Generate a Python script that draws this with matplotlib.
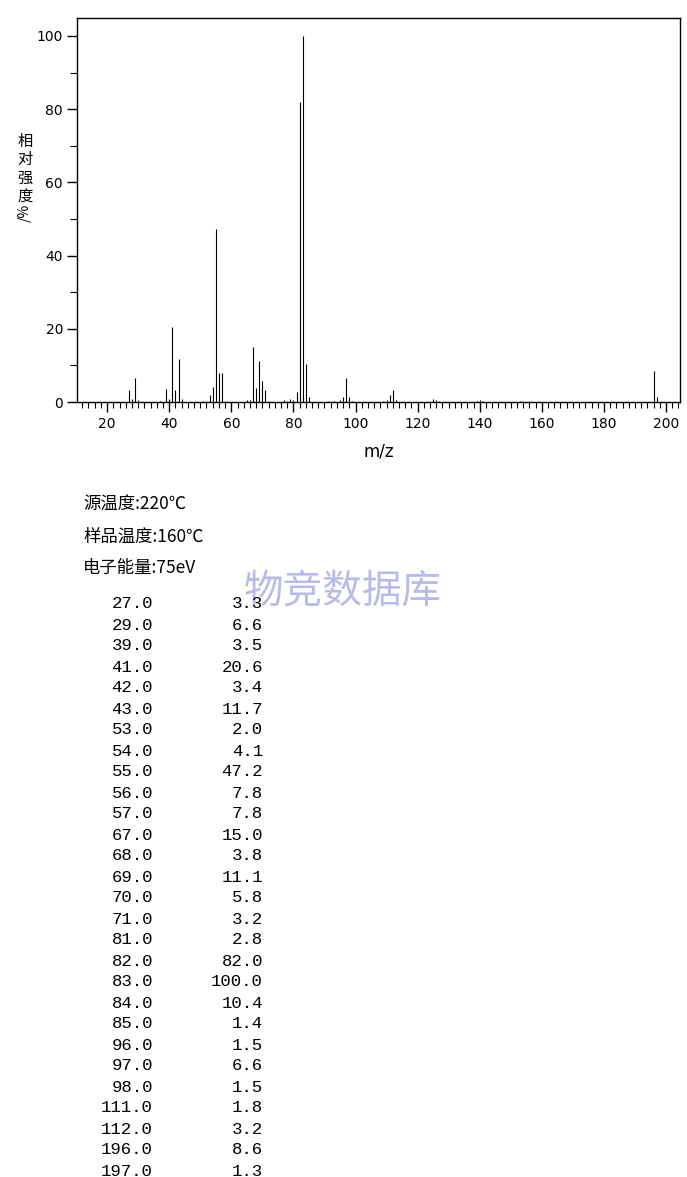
import matplotlib
matplotlib.use("Agg")
import matplotlib.pyplot as plt
from matplotlib.ticker import MultipleLocator

# peak list (as printed in the table)
table_mz = [27, 29, 39, 41, 42, 43, 53, 54, 55, 56, 57, 67, 68, 69, 70, 71,
            81, 82, 83, 84, 85, 96, 97, 98, 111, 112, 196, 197]
table_int = [3.3, 6.6, 3.5, 20.6, 3.4, 11.7, 2.0, 4.1, 47.2, 7.8, 7.8, 15.0, 3.8,
             11.1, 5.8, 3.2, 2.8, 82.0, 100.0, 10.4, 1.4, 1.5, 6.6, 1.5, 1.8,
             3.2, 8.6, 1.3]

# small peaks seen on the spectrum but not listed (estimated)
minor_mz = [28, 30, 37, 40, 44, 51, 52, 58, 65, 66, 72, 77, 78, 79, 80,
            91, 92, 93, 95, 99, 109, 110, 113, 124, 125, 126, 127,
            139, 140, 141, 153, 154, 156]
minor_int = [0.8, 0.5, 0.3, 0.8, 0.7, 0.3, 0.4, 0.4, 0.5, 0.5, 0.4, 0.5, 0.3,
             0.8, 0.5, 0.3, 0.3, 0.3, 0.5, 0.3, 0.3, 0.5, 0.5, 0.3, 0.8,
             0.5, 0.3, 0.3, 0.5, 0.3, 0.3, 0.3, 0.4]

info_lines = ["源温度:220℃", "样品温度:160℃", "电子能量:75eV"]
ylabel_chars = ["相", "对", "强", "度"]

CJK = ["Noto Sans CJK SC", "DejaVu Sans"]

fig = plt.figure(figsize=(6.87, 11.77), dpi=100)
ax = fig.add_axes([77 / 687, 1 - 402 / 1177, 603 / 687, 384 / 1177])

ax.vlines(table_mz + minor_mz, 0, table_int + minor_int, color="black", linewidth=0.8)

ax.set_xlim(10.3, 204.5)
ax.set_ylim(0, 104.9)
ax.xaxis.set_major_locator(MultipleLocator(20))
ax.xaxis.set_minor_locator(MultipleLocator(2))
ax.yaxis.set_major_locator(MultipleLocator(20))
ax.yaxis.set_minor_locator(MultipleLocator(10))
ax.tick_params(axis="x", which="major", direction="out", length=7, width=1, labelsize=10, pad=4)
ax.tick_params(axis="x", which="minor", direction="out", length=4, width=0.8)
ax.tick_params(axis="y", which="major", direction="out", length=7, width=1, labelsize=10, pad=3)
ax.tick_params(axis="y", which="minor", direction="out", length=5, width=0.8)
for s in ax.spines.values():
    s.set_linewidth(1.0)

ax.set_xlabel("m/z", fontsize=12, labelpad=8)

# vertical y label: stacked chinese characters then rotated "/%"
for i, ch in enumerate(ylabel_chars):
    fig.text(25 / 687, 1 - (141 + i * 18.5) / 1177, ch, family=CJK,
             fontsize=11, ha="center", va="center")
fig.text(25 / 687, 1 - 213 / 1177, "/%", family=CJK,
         fontsize=10, ha="center", va="center", rotation=90)

for i, line in enumerate(info_lines):
    fig.text(83 / 687, 1 - (505 + i * 31.5) / 1177, line,
             family=CJK, fontsize=12.5, ha="left", va="center")

# watermark
fig.text(343 / 687, 1 - 591 / 1177, "物竞数据库", family=["Noto Sans CJK SC"],
         fontsize=28.5, color="#b3b3e6", ha="center", va="center", alpha=0.9)

for i, (m, v) in enumerate(zip(table_mz, table_int)):
    y = 1 - (604 + i * 21.0) / 1177
    fig.text(153 / 687, y, f"{m:.1f}", family="Liberation Mono", fontsize=12.5,
             ha="right", va="center")
    fig.text(263 / 687, y, f"{v:.1f}", family="Liberation Mono", fontsize=12.5,
             ha="right", va="center")

fig.savefig("out.png", dpi=100)
